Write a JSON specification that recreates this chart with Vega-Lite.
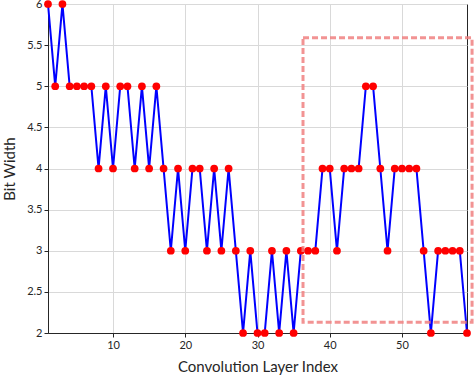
{
  "$schema": "https://vega.github.io/schema/vega-lite/v6.json",
  "width": 419,
  "height": 329,
  "autosize": {"type": "none"},
  "padding": {"left": 48, "top": 4, "right": 7, "bottom": 47},
  "background": "white",
  "config": {
    "view": {"stroke": "#262626", "strokeWidth": 1},
    "axis": {
      "labelFont": "Lato",
      "titleFont": "Lato",
      "labelFontSize": 11,
      "titleFontSize": 15,
      "labelColor": "#262626",
      "titleColor": "#262626",
      "titleFontWeight": "normal",
      "gridColor": "#d9d9d9",
      "gridWidth": 1,
      "domainColor": "#262626",
      "tickColor": "#262626",
      "tickSize": 4
    }
  },
  "layer": [
    {
      "data": {"values": [
        {"layer": 1, "bits": 6}, {"layer": 2, "bits": 5}, {"layer": 3, "bits": 6}, {"layer": 4, "bits": 5},
        {"layer": 5, "bits": 5}, {"layer": 6, "bits": 5}, {"layer": 7, "bits": 5}, {"layer": 8, "bits": 4},
        {"layer": 9, "bits": 5}, {"layer": 10, "bits": 4}, {"layer": 11, "bits": 5}, {"layer": 12, "bits": 5},
        {"layer": 13, "bits": 4}, {"layer": 14, "bits": 5}, {"layer": 15, "bits": 4}, {"layer": 16, "bits": 5},
        {"layer": 17, "bits": 4}, {"layer": 18, "bits": 3}, {"layer": 19, "bits": 4}, {"layer": 20, "bits": 3},
        {"layer": 21, "bits": 4}, {"layer": 22, "bits": 4}, {"layer": 23, "bits": 3}, {"layer": 24, "bits": 4},
        {"layer": 25, "bits": 3}, {"layer": 26, "bits": 4}, {"layer": 27, "bits": 3}, {"layer": 28, "bits": 2},
        {"layer": 29, "bits": 3}, {"layer": 30, "bits": 2}, {"layer": 31, "bits": 2}, {"layer": 32, "bits": 3},
        {"layer": 33, "bits": 2}, {"layer": 34, "bits": 3}, {"layer": 35, "bits": 2}, {"layer": 36, "bits": 3},
        {"layer": 37, "bits": 3}, {"layer": 38, "bits": 3}, {"layer": 39, "bits": 4}, {"layer": 40, "bits": 4},
        {"layer": 41, "bits": 3}, {"layer": 42, "bits": 4}, {"layer": 43, "bits": 4}, {"layer": 44, "bits": 4},
        {"layer": 45, "bits": 5}, {"layer": 46, "bits": 5}, {"layer": 47, "bits": 4}, {"layer": 48, "bits": 3},
        {"layer": 49, "bits": 4}, {"layer": 50, "bits": 4}, {"layer": 51, "bits": 4}, {"layer": 52, "bits": 4},
        {"layer": 53, "bits": 3}, {"layer": 54, "bits": 2}, {"layer": 55, "bits": 3}, {"layer": 56, "bits": 3},
        {"layer": 57, "bits": 3}, {"layer": 58, "bits": 3}, {"layer": 59, "bits": 2}
      ]},
      "encoding": {
        "x": {
          "field": "layer", "type": "quantitative",
          "scale": {"domain": [1, 59], "nice": false, "zero": false},
          "axis": {"values": [10, 20, 30, 40, 50], "title": "Convolution Layer Index", "titlePadding": 9}
        },
        "y": {
          "field": "bits", "type": "quantitative",
          "scale": {"domain": [2, 6], "nice": false, "zero": false},
          "axis": {"values": [2, 2.5, 3, 3.5, 4, 4.5, 5, 5.5, 6], "format": "~g", "title": "Bit Width", "titlePadding": 9}
        }
      },
      "layer": [
        {"mark": {"type": "line", "color": "#0000ff", "strokeWidth": 2, "clip": false}},
        {"mark": {"type": "point", "filled": true, "color": "#ff0000", "opacity": 1, "size": 60, "clip": false}}
      ]
    },
    {
      "data": {"values": [{"x1": 36.3, "x2": 59.7, "y1": 2.13, "y2": 5.59}]},
      "mark": {"type": "rect", "fill": null, "fillOpacity": 0, "stroke": "#f08080", "strokeOpacity": 0.85, "strokeWidth": 3, "strokeDash": [6, 3], "clip": false},
      "encoding": {
        "x": {"field": "x1", "type": "quantitative"},
        "x2": {"field": "x2"},
        "y": {"field": "y1", "type": "quantitative"},
        "y2": {"field": "y2"}
      }
    }
  ]
}
